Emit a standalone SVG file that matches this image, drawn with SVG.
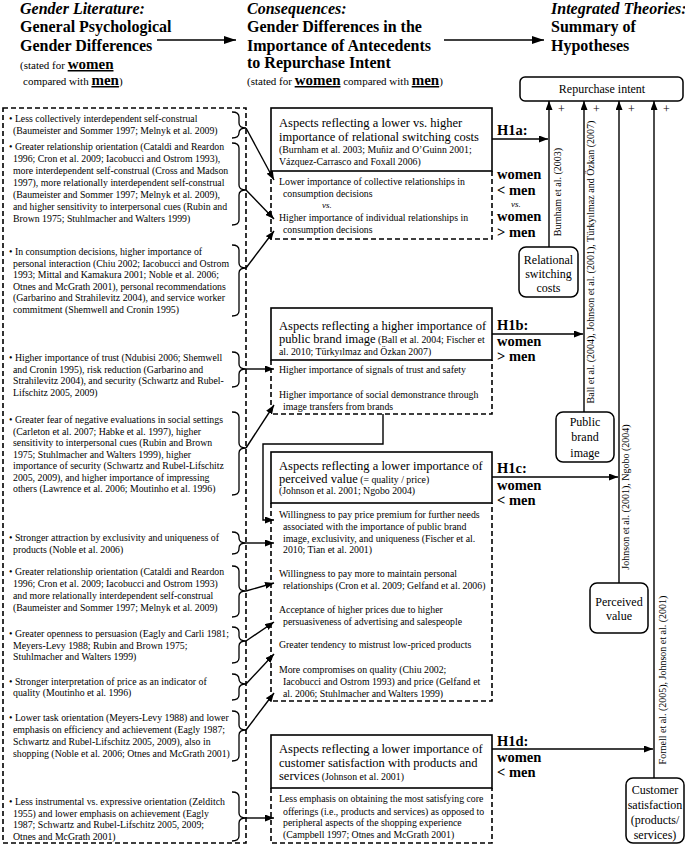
<svg xmlns="http://www.w3.org/2000/svg" width="685" height="845" viewBox="0 0 685 845" font-family="'Liberation Serif', 'Times New Roman', serif">
<style>
text{font-family:"Liberation Serif","Times New Roman",serif;fill:#000}
.t{font-size:9.8px}
.ti{font-size:12.5px}
.hd{font-size:16px;font-weight:bold}
.sm{font-size:11px}
.u{font-size:15px;font-weight:bold;text-decoration:underline}
.h{font-size:14.5px;font-weight:bold}
.nd{font-size:12px;text-anchor:middle}
.lab{font-size:10px;text-anchor:middle}
.box{fill:#fff;stroke:#000;stroke-width:1.6}
.rb{fill:#fff;stroke:#000;stroke-width:1.5}
.dash{fill:none;stroke:#000;stroke-width:1.6;stroke-dasharray:5 3}
.ln{fill:none;stroke:#000;stroke-width:1.4}
.br{fill:none;stroke:#000;stroke-width:1.3}
</style>
<defs>
<marker id="ah" markerUnits="userSpaceOnUse" markerWidth="9" markerHeight="7" refX="9" refY="3.5" orient="auto"><path d="M0,0 L9,3.5 L0,7 z" fill="#000"/></marker>
<marker id="ahL" markerUnits="userSpaceOnUse" markerWidth="12" markerHeight="8" refX="12" refY="4" orient="auto"><path d="M0,0 L12,4 L0,8 z" fill="#000"/></marker>
</defs>
<rect width="685" height="845" fill="#fff"/>

<g id="header">
<text x="20" y="14" class="hd" font-style="italic">Gender Literature:</text>
<text x="20" y="32" class="hd">General Psychological</text>
<text x="20" y="51" class="hd">Gender Differences</text>
<text x="20" y="69" class="sm">(stated for <tspan class="u">women</tspan></text>
<text x="23" y="85" class="sm">compared with <tspan class="u">men</tspan>)</text>
<text x="247" y="14" class="hd" font-style="italic">Consequences:</text>
<text x="247" y="32" class="hd">Gender Differences in the</text>
<text x="247" y="51" class="hd">Importance of Antecedents</text>
<text x="247" y="68" class="hd">to Repurchase Intent</text>
<text x="247" y="85" class="sm">(stated for <tspan class="u">women</tspan> compared with <tspan class="u">men</tspan>)</text>
<text x="551" y="14" class="hd" font-style="italic">Integrated Theories:</text>
<text x="551" y="32" class="hd">Summary of</text>
<text x="551" y="51" class="hd">Hypotheses</text>
<line x1="157" y1="40" x2="236" y2="40" class="ln" stroke-width="1.8" marker-end="url(#ahL)"/>
<line x1="444" y1="40" x2="544" y2="40" class="ln" stroke-width="1.8" marker-end="url(#ahL)"/>
</g>

<g id="literature">
<rect x="3" y="108" width="243" height="735" class="dash"/>
<g class="t">
<text x="9" y="122" class="t">• Less collectively interdependent self-construal</text>
<text x="13" y="133.5" class="t">(Baumeister and Sommer 1997; Melnyk et al. 2009)</text>

<text x="9" y="150" class="t">• Greater relationship orientation (Cataldi and Reardon</text>
<text x="13" y="162" class="t">1996; Cron et al. 2009; Iacobucci and Ostrom 1993),</text>
<text x="13" y="173.5" class="t">more interdependent self-construal (Cross and Madson</text>
<text x="13" y="185.5" class="t">1997), more relationally interdependent self-construal</text>
<text x="13" y="197.5" class="t">(Baumeister and Sommer 1997; Melnyk et al. 2009),</text>
<text x="13" y="209.5" class="t">and higher sensitivity to interpersonal cues (Rubin and</text>
<text x="13" y="221.5" class="t">Brown 1975; Stuhlmacher and Walters 1999)</text>

<text x="9" y="255" class="t">• In consumption decisions, higher importance of</text>
<text x="13" y="266.5" class="t">personal interaction (Chiu 2002; Iacobucci and Ostrom</text>
<text x="13" y="278" class="t">1993; Mittal and Kamakura 2001; Noble et al. 2006;</text>
<text x="13" y="289.5" class="t">Otnes and McGrath 2001), personal recommendations</text>
<text x="13" y="301" class="t">(Garbarino and Strahilevitz 2004), and service worker</text>
<text x="13" y="313" class="t">commitment (Shemwell and Cronin 1995)</text>

<text x="9" y="361" class="t">• Higher importance of trust (Ndubisi 2006; Shemwell</text>
<text x="13" y="372.5" class="t">and Cronin 1995), risk reduction (Garbarino and</text>
<text x="13" y="384" class="t">Strahilevitz 2004), and security (Schwartz and Rubel-</text>
<text x="13" y="396" class="t">Lifschitz 2005, 2009)</text>

<text x="9" y="423" class="t">• Greater fear of negative evaluations in social settings</text>
<text x="13" y="434.5" class="t">(Carleton et al. 2007; Habke et al. 1997), higher</text>
<text x="13" y="446" class="t">sensitivity to interpersonal cues (Rubin and Brown</text>
<text x="13" y="457.5" class="t">1975; Stuhlmacher and Walters 1999), higher</text>
<text x="13" y="469" class="t">importance of security (Schwartz and Rubel-Lifschitz</text>
<text x="13" y="480.5" class="t">2005, 2009), and higher importance of impressing</text>
<text x="13" y="492" class="t">others (Lawrence et al. 2006; Moutinho et al. 1996)</text>

<text x="9" y="541" class="t">• Stronger attraction by exclusivity and uniqueness of</text>
<text x="13" y="553" class="t">products (Noble et al. 2006)</text>

<text x="9" y="575" class="t">• Greater relationship orientation (Cataldi and Reardon</text>
<text x="13" y="587" class="t">1996; Cron et al. 2009; Iacobucci and Ostrom 1993)</text>
<text x="13" y="599" class="t">and more relationally interdependent self-construal</text>
<text x="13" y="611" class="t">(Baumeister and Sommer 1997; Melnyk et al. 2009)</text>

<text x="9" y="637" class="t">• Greater openness to persuasion (Eagly and Carli 1981;</text>
<text x="13" y="648.5" class="t">Meyers-Levy 1988; Rubin and Brown 1975;</text>
<text x="13" y="660" class="t">Stuhlmacher and Walters 1999)</text>

<text x="9" y="684.5" class="t">• Stronger interpretation of price as an indicator of</text>
<text x="13" y="696" class="t">quality (Moutinho et al. 1996)</text>

<text x="9" y="721" class="t">• Lower task orientation (Meyers-Levy 1988) and lower</text>
<text x="13" y="733" class="t">emphasis on efficiency and achievement (Eagly 1987;</text>
<text x="13" y="744.5" class="t">Schwartz and Rubel-Lifschitz 2005, 2009), also in</text>
<text x="13" y="756.5" class="t">shopping (Noble et al. 2006; Otnes and McGrath 2001)</text>

<text x="9" y="805" class="t">• Less instrumental vs. expressive orientation (Zelditch</text>
<text x="13" y="816.5" class="t">1955) and lower emphasis on achievement (Eagly</text>
<text x="13" y="828" class="t">1987; Schwartz and Rubel-Lifschitz 2005, 2009;</text>
<text x="13" y="840" class="t">Otnes and McGrath 2001)</text>
</g>
<g id="braces" class="br">
<path d="M232 112 Q239 112 239 117 L239 123 Q239 128 246 128 Q239 128 239 133 L239 133 Q239 138 232 138"/>
<path d="M232 143 Q239 143 239 148 L239 185 Q239 190 246 190 Q239 190 239 195 L239 220 Q239 225 232 225"/>
<path d="M232 245 Q239 245 239 250 L239 263 Q239 268 246 268 Q239 268 239 273 L239 311 Q239 316 232 316"/>
<path d="M232 352 Q239 352 239 357 L239 364 Q239 369 246 369 Q239 369 239 374 L239 382 Q239 387 232 387"/>
<path d="M232 412 Q239 412 239 417 L239 443 Q239 448 246 448 Q239 448 239 453 L239 490 Q239 495 232 495"/>
<path d="M232 532 Q239 532 239 537 L239 538 Q239 543 246 543 Q239 543 239 548 L239 549 Q239 554 232 554"/>
<path d="M232 566 Q239 566 239 571 L239 586 Q239 591 246 591 Q239 591 239 596 L239 612 Q239 617 232 617"/>
<path d="M232 627 Q239 627 239 632 L239 636 Q239 641 246 641 Q239 641 239 646 L239 658 Q239 663 232 663"/>
<path d="M232 674 Q239 674 239 679 L239 679 Q239 684 246 684 Q239 684 239 689 L239 695 Q239 700 232 700"/>
<path d="M232 711 Q239 711 239 716 L239 725 Q239 730 246 730 Q239 730 239 735 L239 756 Q239 761 232 761"/>
<path d="M232 792 Q239 792 239 797 L239 813 Q239 818 246 818 Q239 818 239 823 L239 836 Q239 841 232 841"/>
</g>
</g>

<g id="h1a-box">
<path d="M271 171 V239 H492 V171" class="dash"/>
<rect x="271" y="108" width="221" height="63" class="box"/>
<text x="279" y="126.5" class="ti">Aspects reflecting a lower vs. higher</text>
<text x="279" y="140.5" class="ti">importance of relational switching costs</text>
<text x="279" y="152.5" class="t">(Burnham et al. 2003; Muñiz and O’Guinn 2001;</text>
<text x="279" y="164.5" class="t">Vázquez-Carrasco and Foxall 2006)</text>
<text x="279" y="185" class="t">Lower importance of collective relationships in</text>
<text x="283" y="197" class="t">consumption decisions</text>
<text x="322" y="208" font-style="italic" font-size="9px">vs.</text>
<text x="279" y="221" class="t">Higher importance of individual relationships in</text>
<text x="283" y="233" class="t">consumption decisions</text>
</g>
<g id="h1a-label">
<text x="497" y="135" class="h">H1a:</text>
<text x="497" y="179" class="h">women</text>
<text x="497" y="195" class="h">&lt; men</text>
<text x="511" y="207" font-size="9px" font-style="italic">vs.</text>
<text x="497" y="221" class="h">women</text>
<text x="497" y="237" class="h">&gt; men</text>
</g>

<g id="h1b-box">
<path d="M271 360 V414 H492 V360" class="dash"/>
<rect x="271" y="308" width="221" height="52" class="box"/>
<text x="279" y="329.5" class="ti">Aspects reflecting a higher importance of</text>
<text x="279" y="342.5" class="ti">public brand image<tspan class="t"> (Ball et al. 2004; Fischer et</tspan></text>
<text x="279" y="354.5" class="t">al. 2010; Türkyılmaz and Özkan 2007)</text>
<text x="279" y="373" class="t">Higher importance of signals of trust and safety</text>
<text x="279" y="398" class="t">Higher importance of social demonstrance through</text>
<text x="283" y="410" class="t">image transfers from brands</text>
</g>
<g id="h1b-label">
<text x="497" y="330" class="h">H1b:</text>
<text x="497" y="346" class="h">women</text>
<text x="497" y="361" class="h">&gt; men</text>
</g>

<g id="h1c-box">
<path d="M271 503 V701 H492 V503" class="dash"/>
<rect x="271" y="452" width="221" height="51" class="box"/>
<text x="279" y="469.5" class="ti">Aspects reflecting a lower importance of</text>
<text x="279" y="482.5" class="ti">perceived value<tspan class="t"> (= quality / price)</tspan></text>
<text x="279" y="494" class="t">(Johnson et al. 2001; Ngobo 2004)</text>
<text x="279" y="518" class="t">Willingness to pay price premium for further needs</text>
<text x="283" y="530" class="t">associated with the importance of public brand</text>
<text x="283" y="541.5" class="t">image, exclusivity, and uniqueness (Fischer et al.</text>
<text x="283" y="553" class="t">2010; Tian et al. 2001)</text>
<text x="279" y="577" class="t">Willingness to pay more to maintain personal</text>
<text x="283" y="589" class="t">relationships (Cron et al. 2009; Gelfand et al. 2006)</text>
<text x="279" y="613" class="t">Acceptance of higher prices due to higher</text>
<text x="283" y="625" class="t">persuasiveness of advertising and salespeople</text>
<text x="279" y="648" class="t">Greater tendency to mistrust low-priced products</text>
<text x="279" y="673" class="t">More compromises on quality (Chiu 2002;</text>
<text x="283" y="685" class="t">Iacobucci and Ostrom 1993) and price (Gelfand et</text>
<text x="283" y="696.5" class="t">al. 2006; Stuhlmacher and Walters 1999)</text>
</g>
<g id="h1c-label">
<text x="497" y="473" class="h">H1c:</text>
<text x="497" y="490" class="h">women</text>
<text x="497" y="505" class="h">&lt; men</text>
</g>

<g id="h1d-box">
<path d="M271 788 V843 H492 V788" class="dash"/>
<rect x="271" y="735" width="221" height="53" class="box"/>
<text x="279" y="752.5" class="ti">Aspects reflecting a lower importance of</text>
<text x="279" y="766.5" class="ti">customer satisfaction with products and</text>
<text x="279" y="779.5" class="ti">services<tspan class="t"> (Johnson et al. 2001)</tspan></text>
<text x="279" y="802" class="t">Less emphasis on obtaining the most satisfying core</text>
<text x="283" y="814.5" class="t">offerings (i.e., products and services) as opposed to</text>
<text x="283" y="826" class="t">peripheral aspects of the shopping experience</text>
<text x="283" y="838" class="t">(Campbell 1997; Otnes and McGrath 2001)</text>
</g>
<g id="h1d-label">
<text x="497" y="746" class="h">H1d:</text>
<text x="497" y="762" class="h">women</text>
<text x="497" y="777" class="h">&lt; men</text>
</g>

<g id="repurchase-intent">
<rect x="520" y="77" width="163" height="24" rx="5" class="rb"/>
<text x="602" y="93" class="nd">Repurchase intent</text>
</g>
<g id="relational-switching-costs">
<rect x="519" y="247" width="59" height="50" rx="7" class="rb"/>
<text x="548.5" y="264" class="nd">Relational</text>
<text x="548.5" y="278" class="nd">switching</text>
<text x="548.5" y="292" class="nd">costs</text>
</g>
<g id="public-brand-image">
<rect x="556" y="412" width="58" height="50" rx="7" class="rb"/>
<text x="585" y="426" class="nd">Public</text>
<text x="585" y="441" class="nd">brand</text>
<text x="585" y="457" class="nd">image</text>
</g>
<g id="perceived-value">
<rect x="590" y="583" width="58" height="50" rx="7" class="rb"/>
<text x="619" y="606" class="nd">Perceived</text>
<text x="619" y="620" class="nd">value</text>
</g>
<g id="customer-satisfaction">
<rect x="626" y="778" width="58" height="65" rx="7" class="rb"/>
<text x="655" y="794" class="nd">Customer</text>
<text x="655" y="809" class="nd">satisfaction</text>
<text x="655" y="824" class="nd">(products/</text>
<text x="655" y="839" class="nd">services)</text>
</g>

<g id="connectors">
<g class="ln" marker-end="url(#ah)">
<line x1="246" y1="128" x2="274" y2="180"/>
<line x1="246" y1="190" x2="274" y2="219"/>
<line x1="246" y1="268" x2="274" y2="231"/>
<line x1="246" y1="369" x2="274" y2="369"/>
<line x1="246" y1="448" x2="274" y2="405"/>
<line x1="246" y1="543" x2="274" y2="543"/>
<line x1="246" y1="591" x2="274" y2="583"/>
<line x1="246" y1="641" x2="274" y2="622"/>
<line x1="246" y1="684" x2="274" y2="654"/>
<line x1="246" y1="730" x2="274" y2="693"/>
<line x1="246" y1="818" x2="274" y2="818"/>
<path d="M383 414 V444 H263 V520 H274"/>
<line x1="492" y1="139" x2="548" y2="139"/>
<line x1="492" y1="334" x2="583" y2="334"/>
<line x1="492" y1="477" x2="618" y2="477"/>
<line x1="492" y1="749" x2="653" y2="749"/>
<line x1="549" y1="247" x2="549" y2="101"/>
<line x1="584" y1="412" x2="584" y2="101"/>
<line x1="619" y1="583" x2="619" y2="101"/>
<line x1="654" y1="778" x2="654" y2="101"/>
</g>
<text x="558" y="113" font-size="12px">+</text>
<text x="593" y="113" font-size="12px">+</text>
<text x="628" y="113" font-size="12px">+</text>
<text x="663" y="113" font-size="12px">+</text>
<text class="lab" transform="translate(561 192) rotate(-90)">Burnham et al. (2003)</text>
<text class="lab" transform="translate(594 262) rotate(-90)">Ball et al. (2004), Johnson et al. (2001), Türkyılmaz and Özkan (2007)</text>
<text class="lab" transform="translate(629 497) rotate(-90)">Johnson et al. (2001), Ngobo (2004)</text>
<text class="lab" transform="translate(666 680) rotate(-90)">Fornell et al. (2005), Johnson et al. (2001)</text>
</g>
</svg>
